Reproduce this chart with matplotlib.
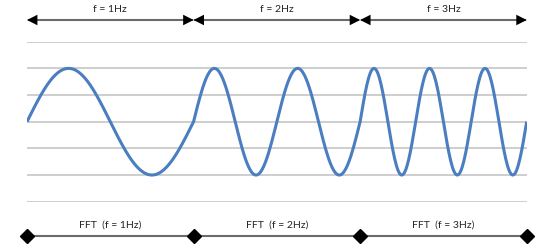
import matplotlib.pyplot as plt
import numpy as np

# signal made of three parts, one second each
seg_freqs = [1, 2, 3]
amp = 2
top_labels = ["f = 1Hz", "f = 2Hz", "f = 3Hz"]
fft_labels = ["FFT  (f = 1Hz)", "FFT  (f = 2Hz)", "FFT  (f = 3Hz)"]

W, H = 556, 250
fig = plt.figure(figsize=(W / 100, H / 100), dpi=100)
# plot box in pixels
x0, x1 = 27, 526.7
y_top, y_bot = 41.7, 201.7
ax = fig.add_axes([x0 / W, (H - y_bot) / H, (x1 - x0) / W, (y_bot - y_top) / H])
ax.set_xlim(0, 3)
ax.set_ylim(-3, 3)
ax.axis("off")

# gridlines
for g in range(-3, 4):
    ax.plot([0, 3], [g, g], color="#c6c6c6", lw=1.2, zorder=1)

# the wave
t_all = []
s_all = []
for i, f in enumerate(seg_freqs):
    t = np.linspace(i, i + 1, 200)
    t_all.append(t)
    s_all.append(amp * np.sin(2 * np.pi * f * (t - i)))
t_all = np.concatenate(t_all)
s_all = np.concatenate(s_all)
ax.plot(t_all, s_all, color="#4a7ec0", lw=2.2, zorder=3, solid_capstyle="butt")

font = "Lato"
unit = (y_bot - y_top) / 6  # px per y unit

# top arrows
y_arr = 3 + (y_top - 20) / unit
y_txt = 3 + (y_top - 10) / unit
head = "-|>,head_length=0.75,head_width=0.38"
for i, lab in enumerate(top_labels):
    ax.plot([i + 0.01, i + 0.99], [y_arr, y_arr], color="#6a6a6a", lw=1.5,
            clip_on=False)
    for end in (i, i + 1):
        ax.annotate("", xy=(end, y_arr), xytext=(i + 0.5, y_arr),
                    arrowprops=dict(arrowstyle=head, color="black", lw=0,
                                    shrinkA=0, shrinkB=0),
                    annotation_clip=False)
    ax.text(i + 0.5, y_txt, lab, ha="center", va="center", fontsize=7.5,
            family=font, color="#222222", clip_on=False)

# bottom FFT line with diamonds
y_line = -3 - (236 - y_bot) / unit
y_fft = -3 - (225 - y_bot) / unit
ax.plot([0, 3], [y_line, y_line], color="#6a6a6a", lw=1.5, clip_on=False)
ax.plot(range(4), [y_line] * 4, ls="none", marker="D", ms=7, color="black",
        clip_on=False)
for i, lab in enumerate(fft_labels):
    ax.text(i + 0.5, y_fft, lab, ha="center", va="center", fontsize=7.5,
            family=font, color="#222222", clip_on=False)

fig.savefig("out.png", dpi=100)
